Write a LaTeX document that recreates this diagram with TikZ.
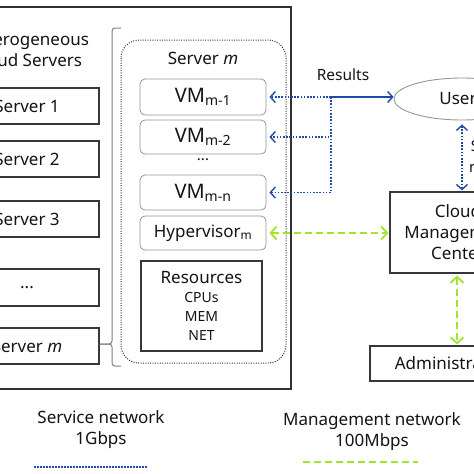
\documentclass[tikz,border=0pt]{standalone}
\usepackage{fontspec}
\setmainfont{Noto Sans}
\usetikzlibrary{arrows.meta,shapes.geometric}
\definecolor{txt}{RGB}{20,20,20}
\definecolor{bord}{RGB}{55,55,55}
\definecolor{lbord}{RGB}{150,150,150}
\definecolor{netblue}{RGB}{30,75,170}
\definecolor{netgreen}{RGB}{160,228,45}
\tikzset{
  box/.style={draw=bord, line width=1.2pt, text=txt, inner sep=0pt},
  vmbox/.style={draw=lbord, line width=0.8pt, rounded corners=5pt, text=txt, minimum width=126pt, inner sep=0pt},
  lbl/.style={text=txt, inner sep=0pt},
  bluedot/.style={draw=netblue, line width=1.6pt, dash pattern=on 1.6pt off 1.6pt},
  greendash/.style={draw=netgreen, line width=2.2pt, dash pattern=on 7pt off 4pt},
  btip/.style={-{Straight Barb[length=5pt,width=11pt,line width=1.4pt]}},
  bbtip/.style={{Straight Barb[length=5pt,width=11pt,line width=1.4pt]}-{Straight Barb[length=5pt,width=11pt,line width=1.4pt]}},
  gbtip/.style={{Straight Barb[length=6pt,width=13pt,line width=1.8pt]}-{Straight Barb[length=6pt,width=13pt,line width=1.8pt]}},
}
\begin{document}
\begin{tikzpicture}[x=1pt,y=-1pt]
\useasboundingbox (0,0) rectangle (474,474);
\clip (0,0) rectangle (474,474);
\fill[white] (0,0) rectangle (474,474);
\fontsize{17}{21}\selectfont
% outer frame
\draw[draw=bord!90!black, line width=2.6pt] (-30,7) rectangle (291,389);
\node[lbl, align=center] (title) at (27,50.5) {Heterogeneous\\Cloud Servers};
% servers
\node[box, minimum width=144pt, minimum height=36pt] (s1) at (27,106) {Server 1};
\node[box, minimum width=144pt, minimum height=36pt] (s2) at (27,159) {Server 2};
\node[box, minimum width=144pt, minimum height=36pt] (s3) at (27,219) {Server 3};
\node[box, minimum width=144pt, minimum height=37pt] (sd) at (27,287.5) {...};
\node[box, minimum width=144pt, minimum height=36pt] (sm) at (27,346) {Server \textit{m}};
% brace
\draw[draw=gray, line width=1pt, rounded corners=3pt] (121,28) -- (112,28) -- (112,344) -- (sm.east |- 0,344);
\draw[draw=gray, line width=1pt, rounded corners=3pt] (sm.east |- 0,344) -- (112,344) -- (112,366) -- (121,366);
% server m container
\draw[draw=bord, line width=1pt, dash pattern=on 1pt off 1.4pt, rounded corners=18pt] (121,40) rectangle (286,363);
\node[lbl] (smt) at (203,58) {Server \textit{m}};
{\fontsize{20}{24}\selectfont
\node[vmbox, minimum height=36pt] (vm1) at (203,97) {VM\textsubscript{m-1}};
\node[vmbox, minimum height=34pt] (vm2) at (203,137) {VM\textsubscript{m-2}};
\node[lbl] (vmd) at (203,160) {\fontsize{15}{18}\selectfont ...};
\node[vmbox, minimum height=35pt] (vmn) at (203,192.5) {VM\textsubscript{m-n}};
}
\node[vmbox, minimum height=34pt] (hyp) at (203,233) {Hypervisor\textsubscript{m}};
\node[box, minimum width=121pt, minimum height=90pt, align=center] (res) at (201.5,306)
  {Resources\\[-2pt]{\fontsize{14}{18}\selectfont CPUs}\\[-2pt]{\fontsize{14}{18}\selectfont MEM}\\[-2pt]{\fontsize{14}{18}\selectfont NET}};
% right side
\node[ellipse, draw=lbord, line width=0.9pt, minimum width=136pt, minimum height=42pt, inner sep=0pt, text=txt] (users) at (462,99) {Users};
\node[box, minimum width=136pt, minimum height=81pt, align=center] (cloud) at (458,232.5) {Cloud\\Management\\Center};
\node[box, minimum width=160pt, minimum height=35pt] (admin) at (450,363.5) {Administrator};
\node[lbl] (results) at (343,75) {\fontsize{15.5}{18}\selectfont Results};
\node[lbl, align=center] (sreq) at (496,158) {\fontsize{15}{24}\selectfont Service\\ \fontsize{15}{24}\selectfont request};
% service network arrows
\coordinate (J) at (331,97);
\draw[draw=netblue, line width=1.8pt, btip] (J) -- (users.west |- J);
\draw[bluedot, btip, shorten >=3pt] (J) -- (vm1.east);
\draw[bluedot, btip, shorten >=3pt] (J) |- (vm2.east);
\draw[bluedot, btip, shorten >=3pt] (J) |- (vmn.east);
\draw[bluedot, bbtip, shorten >=1pt, shorten <=4pt] (users.south) -- (users.south |- cloud.north);
% management network arrows
\draw[greendash, gbtip, shorten >=1pt, shorten <=3pt] (hyp.east) -- (cloud.west |- hyp.east);
\draw[greendash, gbtip, shorten >=1pt, shorten <=2pt] ([xshift=-1pt]cloud.south) -- ([xshift=-1pt]cloud.south |- admin.north);
% legend
\node[lbl, align=center] (leg1) at (101,430) {Service network\\1Gbps};
\node[lbl, align=center] (leg2) at (372,432) {Management network\\100Mbps};
\coordinate (l1a) at (34,467); \coordinate (l1b) at (147,467);
\coordinate (l2a) at (303,462); \coordinate (l2b) at (418,462);
\draw[draw=netblue, line width=1.5pt, dash pattern=on 1.5pt off 1.5pt] (l1a) -- (l1b);
\draw[draw=netgreen, line width=2.2pt, dash pattern=on 7pt off 4pt] (l2a) -- (l2b);
\end{tikzpicture}
\end{document}
